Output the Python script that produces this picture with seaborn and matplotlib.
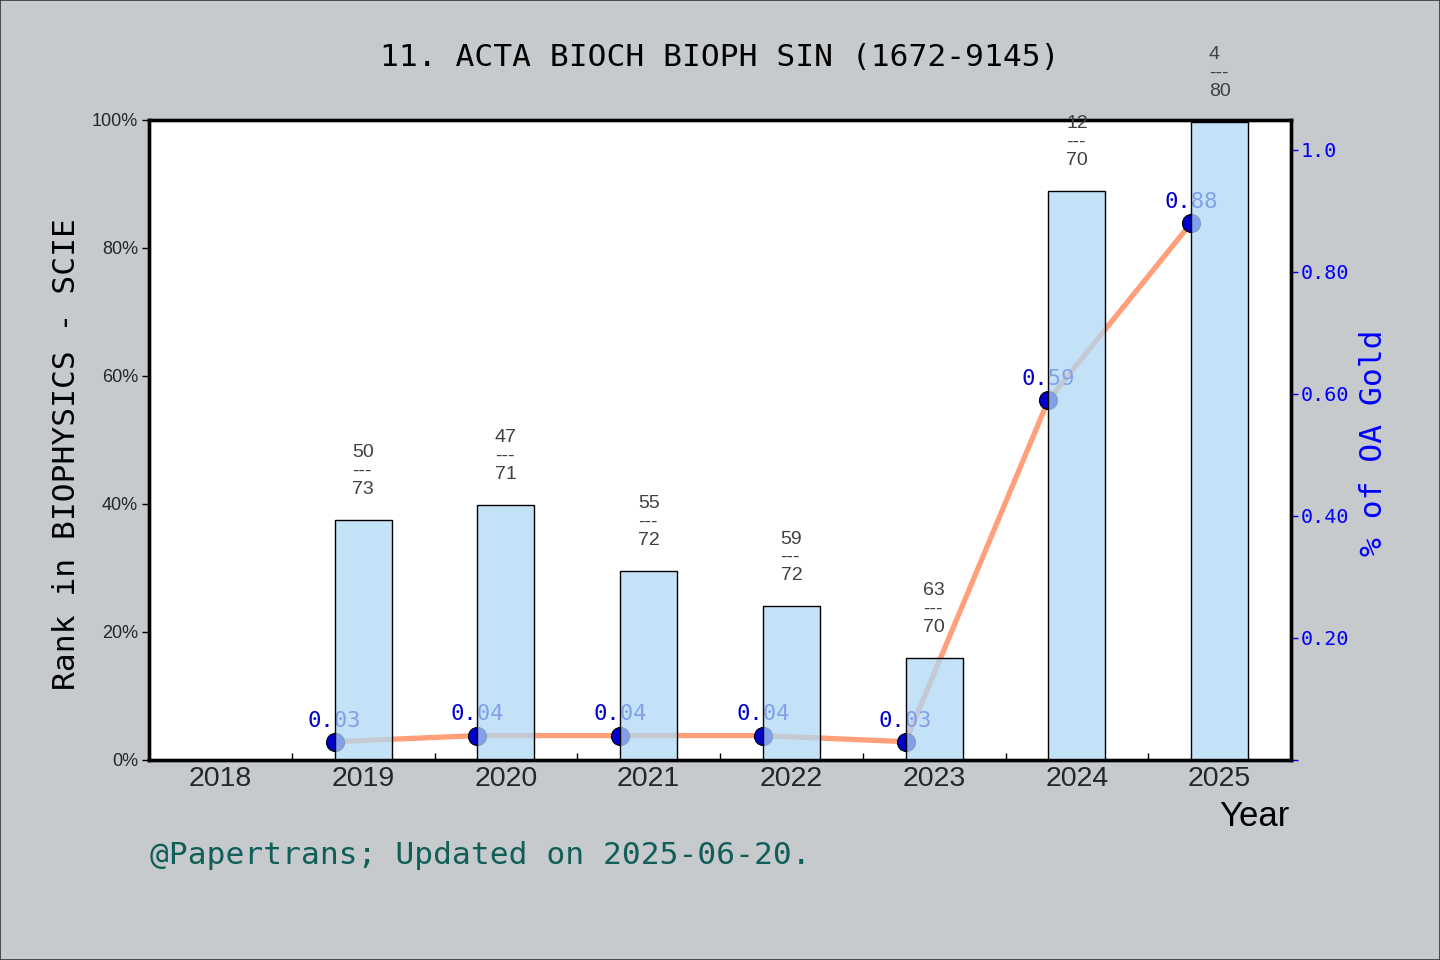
import numpy as np
import pandas as pd
import matplotlib
matplotlib.use("Agg")
import matplotlib.pyplot as plt
from matplotlib.patches import Rectangle
from matplotlib.colors import to_rgba
import seaborn as sns

# ---- data ----
years = ["2018", "2019", "2020", "2021", "2022", "2023", "2024", "2025"]
rank_pct = [np.nan, 37.5, 39.8, 29.5, 24.0, 15.9, 88.9, 99.7]
ranks = ["", "50", "47", "55", "59", "63", "12", "4"]
totals = ["", "73", "71", "72", "72", "70", "70", "80"]
oa_gold = [np.nan, 0.03, 0.04, 0.04, 0.04, 0.03, 0.59, 0.88]
oa_labels = ["", "0.03", "0.04", "0.04", "0.04", "0.03", "0.59", "0.88"]
left_ticks = [0, 20, 40, 60, 80, 100]
left_ticklabels = ["0%", "20%", "40%", "60%", "80%", "100%"]
right_ticks = [0.0, 0.2, 0.4, 0.6, 0.8, 1.0]
right_ticklabels = ["", "0.20", "0.40", "0.60", "0.80", "1.0"]

sns.set_style("white")
plt.rcParams["font.family"] = ["DejaVu Sans Mono", "DejaVu Sans"]

BG = "#c6cacd"
BAR_C = "#b0d8f5"
LINE_C = "#ffa07a"
BLUE = "#0000ff"
MK_C = "#0000cd"
MONO = "DejaVu Sans Mono"
SANS = "Liberation Sans"

fig = plt.figure(figsize=(14.4, 9.6), dpi=100, facecolor=BG)
fig.patches.append(Rectangle((0, 0), 1, 1, transform=fig.transFigure,
                             fill=False, edgecolor="#333333", lw=1.2))

rect = [149 / 1440, 1 - 760 / 960, (1291 - 149) / 1440, (760 - 120) / 960]
ax = fig.add_axes(rect)            # bars, left axis
ax2 = ax.twinx()                   # OA line, right axis
ax.set_zorder(ax2.get_zorder() + 1)
ax.patch.set_visible(False)
ax2.patch.set_facecolor("white")
ax2.patch.set_visible(True)

df = pd.DataFrame({"year": years, "rank": rank_pct})
pos = np.arange(len(years))

# line (right axis)
line_df = pd.DataFrame({"x": pos - 0.2, "oa": oa_gold}).dropna()
sns.lineplot(data=line_df, x="x", y="oa", ax=ax2, color=LINE_C, lw=3.8,
             zorder=2, legend=False)
ax2.plot(line_df["x"], line_df["oa"], ls="none", marker="o", ms=13,
         mfc=MK_C, mec="black", mew=0.8, zorder=3)
for xi, yi, lab in zip(pos - 0.2, oa_gold, oa_labels):
    if lab:
        ax2.annotate(lab, (xi, yi), xytext=(0, 8), textcoords="offset points",
                     ha="center", va="bottom", color=MK_C, fontsize=16,
                     family=MONO, zorder=4)

# bars (left axis, drawn on top with translucent fill)
sns.barplot(data=df, x="year", y="rank", ax=ax, width=0.4, color=BAR_C,
            edgecolor="black", linewidth=1.0, saturation=1)
for p in ax.patches:
    p.set_alpha(None)
    p.set_facecolor(to_rgba(BAR_C, 0.74))
    p.set_edgecolor("black")

for xi, h, r, t in zip(pos, rank_pct, ranks, totals):
    if r:
        ax.annotate(f"{r}\n---\n{t}", (xi, h), xytext=(0, 16),
                    textcoords="offset points", ha="center", va="bottom",
                    multialignment="left", color="#404040", fontsize=14,
                    family=SANS, linespacing=1.1, annotation_clip=False)

ax.set_xlim(-0.5, 7.5)
ax.set_ylim(0, 100)
ax2.set_ylim(0, 1.049)

ax.set_xticks(pos)
ax.set_xticklabels(years, family=SANS, fontsize=20.5)
ax.set_xticks(pos[:-1] + 0.5, minor=True)
ax.tick_params(axis="x", which="major", length=0, pad=4)
ax.tick_params(axis="x", which="minor", direction="in", length=5, width=1,
               color="black", bottom=True)
ax.set_yticks(left_ticks)
ax.set_yticklabels(left_ticklabels, family=SANS, fontsize=13)
ax.tick_params(axis="y", which="major", direction="out", length=5, width=1,
               color="black", left=True, pad=3)
ax.set_xlabel("")
ax.set_ylabel("")

ax2.set_yticks(right_ticks)
ax2.set_yticklabels(right_ticklabels, family=MONO, fontsize=14.5, color=BLUE)
ax2.tick_params(axis="y", direction="out", length=5, width=1, color=BLUE,
                right=True, pad=2)
ax2.set_ylabel("")

for a in (ax, ax2):
    for s in a.spines.values():
        s.set_linewidth(2.4)
        s.set_color("black")

fig.text(0.5, 1 - 57 / 960, "11. ACTA BIOCH BIOPH SIN (1672-9145)",
         ha="center", va="center", fontsize=22.5, family=MONO, color="black")
fig.text(67 / 1440, 1 - 454 / 960, "Rank in BIOPHYSICS - SCIE", rotation=90,
         ha="center", va="center", fontsize=22.5, family=MONO, color="black")
fig.text(1373 / 1440, 1 - 443 / 960, "% of OA Gold", rotation=90,
         ha="center", va="center", fontsize=22.5, family=MONO, color=BLUE)
fig.text(1290 / 1440, 1 - 817 / 960, "Year", ha="right", va="center",
         fontsize=25, family=SANS, color="black")
fig.text(150 / 1440, 1 - 855 / 960, "@Papertrans; Updated on 2025-06-20.",
         ha="left", va="center", fontsize=22.5, family=MONO, color="#0f5e58")

fig.savefig("out.png", dpi=100, facecolor=BG)
